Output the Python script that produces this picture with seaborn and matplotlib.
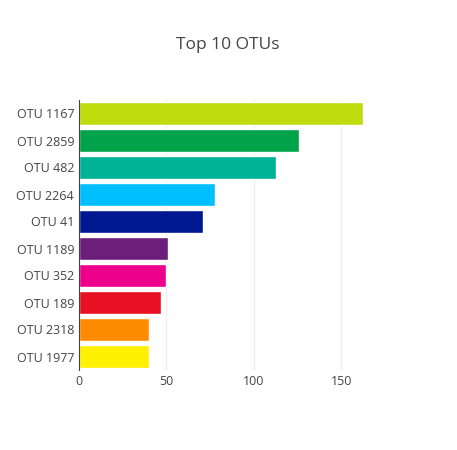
import matplotlib
matplotlib.use("Agg")
import matplotlib.pyplot as plt
import seaborn as sns
import pandas as pd

otus = ["OTU 1167","OTU 2859","OTU 482","OTU 2264","OTU 41","OTU 1189","OTU 352","OTU 189","OTU 2318","OTU 1977"]
values = [162.5, 125.7, 112.7, 77.7, 71, 51, 50, 47, 40, 40]
colors = ["#bedc0e","#00a24a","#00b296","#00bfff","#00188f","#6b1f7b","#ec008c","#e81123","#ff8c00","#fff100"]

df = pd.DataFrame({"otu": otus, "value": values})
sns.set_style("white")
plt.rcParams['font.family'] = ['Open Sans', 'DejaVu Sans']
fig = plt.figure(figsize=(4.57, 4.5), dpi=100)
ax = fig.add_axes([79/457, 1-370/450, 298/457, 270/450])
sns.barplot(data=df, x="value", y="otu", hue="otu", palette=colors, legend=False,
            orient="h", width=0.85, ax=ax, saturation=1)
ax.set_xlim(0, 170.3)
ax.set_ylim(9.5, -0.5)
ax.set_xticks([0, 50, 100, 150])
ax.xaxis.grid(True, color="#eeeeee", lw=1)
ax.set_axisbelow(True)
for s in ["top", "right", "bottom"]:
    ax.spines[s].set_visible(False)
ax.spines["left"].set_color("#444444")
ax.set_xlabel(""); ax.set_ylabel("")
ax.tick_params(colors="#444444", labelsize=9, length=0)
fig.text(228/457, 1-45/450, "Top 10 OTUs", ha="center", va="center", fontsize=12.5, color="#444444")
fig.savefig("out.png", dpi=100)
